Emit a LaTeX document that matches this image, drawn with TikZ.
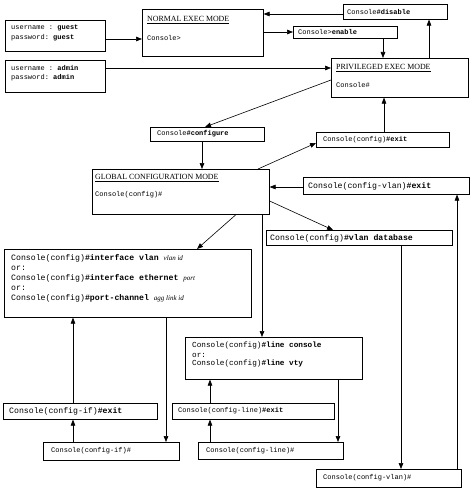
\documentclass[tikz,border=0pt]{standalone}
\usepackage{fontspec}
\setmainfont{Liberation Serif}
\setmonofont{Liberation Mono}
\usetikzlibrary{arrows.meta}
\begin{document}
\begin{tikzpicture}[x=1pt,y=-1pt,
  box/.style={draw, line width=0.6pt, inner sep=0pt, anchor=north west},
  mt/.style={font=\fontsize{7}{9}\selectfont\ttfamily, anchor=west, inner sep=0pt},
  mtm/.style={font=\fontsize{7.7}{9}\selectfont\ttfamily, anchor=west, inner sep=0pt},
  mtw/.style={font=\fontsize{8.2}{9}\selectfont\ttfamily, anchor=west, inner sep=0pt},
  ttl/.style={font=\fontsize{7.9}{9}\selectfont\rmfamily, anchor=west, inner sep=0pt},
  arr/.style={-{Triangle[length=6pt,width=4.6pt]}, line width=0.6pt}]
\fill[white] (0,0) rectangle (474,495);
\useasboundingbox (0,0) rectangle (474,495);
% boxes
\node[box, minimum width=100pt, minimum height=31pt] (guest) at (5,20) {};
\node[box, minimum width=100pt, minimum height=32pt] (admin) at (5,60) {};
\node[box, minimum width=121pt, minimum height=47pt] (normal) at (142,9) {};
\node[box, minimum width=104pt, minimum height=15pt] (disable) at (343,4) {};
\node[box, minimum width=104pt, minimum height=12pt] (enable) at (293,26) {};
\node[box, minimum width=137pt, minimum height=39pt] (priv) at (331,58) {};
\node[box, minimum width=114pt, minimum height=14pt] (configure) at (150,127) {};
\node[box, minimum width=133pt, minimum height=15pt] (cexit) at (316,132) {};
\node[box, minimum width=177pt, minimum height=45pt] (global) at (92,169) {};
\node[box, minimum width=166pt, minimum height=17pt] (vexit) at (303,177) {};
\node[box, minimum width=186pt, minimum height=15pt] (vdb) at (266,230) {};
\node[box, minimum width=247pt, minimum height=68pt] (intf) at (4,249) {};
\node[box, minimum width=177pt, minimum height=42pt] (linec) at (185,337) {};
\node[box, minimum width=154pt, minimum height=16pt] (ifexit) at (3,403) {};
\node[box, minimum width=136pt, minimum height=18pt] (ifp) at (43,442) {};
\node[box, minimum width=162pt, minimum height=16pt] (lexit) at (172,403) {};
\node[box, minimum width=145pt, minimum height=17pt] (lp) at (198,442) {};
\node[box, minimum width=145pt, minimum height=18pt] (vp) at (316,469) {};
% texts
\node[mt] (g1) at (11,28) {username : \textbf{guest}};
\node[mt] (g2) at (11,38) {password: \textbf{guest}};
\node[mt] (a1) at (11,68) {username : \textbf{admin}};
\node[mt] (a2) at (11,78) {password: \textbf{admin}};
\node[ttl] (nt) at (147,20) {\underline{NORMAL EXEC MODE}};
\node[mt] (np) at (147,38) {Console>};
\node[mt] (dt) at (347,11.5) {Console\textbf{\#disable}};
\node[mt] (et) at (298,32) {Console>\textbf{enable}};
\node[ttl] (pt) at (336,68) {\underline{PRIVILEGED EXEC MODE}};
\node[mt] (pp) at (336,85) {Console\#};
\node[mt] (ct) at (157,134) {Console\textbf{\#configure}};
\node[mt] (cxt) at (323,140) {Console(config)\textbf{\#exit}};
\node[ttl] (gt) at (95,178) {\underline{GLOBAL CONFIGURATION MODE}};
\node[mt] (gp) at (95,195) {Console(config)\#};
\node[mtw] (vxt) at (308,186) {Console(config-vlan)\textbf{\#exit}};
\node[mtw] (vdt) at (270,238) {Console(config)\textbf{\#vlan database}};
\node[mtw] (i1) at (11,258) {Console(config)\textbf{\#interface vlan} {\rmfamily\itshape\fontsize{7}{8}\selectfont vlan id}};
\node[mtw] (i2) at (11,268) {or:};
\node[mtw] (i3) at (11,278) {Console(config)\textbf{\#interface ethernet} {\rmfamily\itshape\fontsize{7}{8}\selectfont port}};
\node[mtw] (i4) at (11,288) {or:};
\node[mtw] (i5) at (11,298) {Console(config)\textbf{\#port-channel} {\rmfamily\itshape\fontsize{7}{8}\selectfont agg link id}};
\node[mtm] (l1) at (192,346) {Console(config)\textbf{\#line console}};
\node[mtm] (l2) at (192,355) {or:};
\node[mtm] (l3) at (192,364) {Console(config)\textbf{\#line vty}};
\node[mtw] (ixt) at (9,411) {Console(config-if)\textbf{\#exit}};
\node[mt] (ipt) at (51,451) {Console(config-if)\#};
\node[mt] (lxt) at (178,411) {Console(config-line)\textbf{\#exit}};
\node[mt] (lpt) at (206,451) {Console(config-line)\#};
\node[mt] (vpt) at (323,478) {Console(config-vlan)\#};
% connectors
\draw[arr] (guest.east |- 0,39) -- (normal.west |- 0,39);
\draw[arr] (admin.east |- 0,68) -- (priv.west |- 0,68);
\draw[arr] (disable.west |- 0,14) -- (normal.east |- 0,14);
\draw[arr] (normal.east |- 0,32) -- (enable.west |- 0,32);
\draw[arr] (383,0 |- enable.south) -- (383,0 |- priv.north);
\draw[arr] (429,0 |- priv.north) -- (429,0 |- disable.south);
\draw[arr] (priv.west |- 0,80) -- (205,0 |- configure.north);
\draw[arr] (384,0 |- cexit.north) -- (384,0 |- priv.south);
\draw[arr] (202,0 |- configure.south) -- (202,0 |- global.north);
\draw[arr] (258,0 |- global.north) -- (cexit.west |- 0,143);
\draw[arr] (vexit.west |- 0,187) -- (global.east |- 0,187);
\draw[arr] (global.east |- 0,201) -- (333,0 |- vdb.north);
\draw[arr] (236,0 |- global.south) -- (197,0 |- intf.north);
\draw[arr] (262,0 |- global.south) -- (262,0 |- linec.north);
\draw[arr] (401,0 |- vdb.south) -- (401,0 |- vp.north);
\draw[arr] (457,0 |- vp.north) -- (457,0 |- vexit.south);
\draw[arr] (166,0 |- intf.south) -- (166,0 |- ifp.north);
\draw[arr] (73,0 |- ifexit.north) -- (73,0 |- intf.south);
\draw[arr] (73,0 |- ifp.north) -- (73,0 |- ifexit.south);
\draw[arr] (338,0 |- linec.south) -- (338,0 |- lp.north);
\draw[arr] (210,0 |- lexit.north) -- (210,0 |- linec.south);
\draw[arr] (210,0 |- lp.north) -- (210,0 |- lexit.south);
\end{tikzpicture}
\end{document}
